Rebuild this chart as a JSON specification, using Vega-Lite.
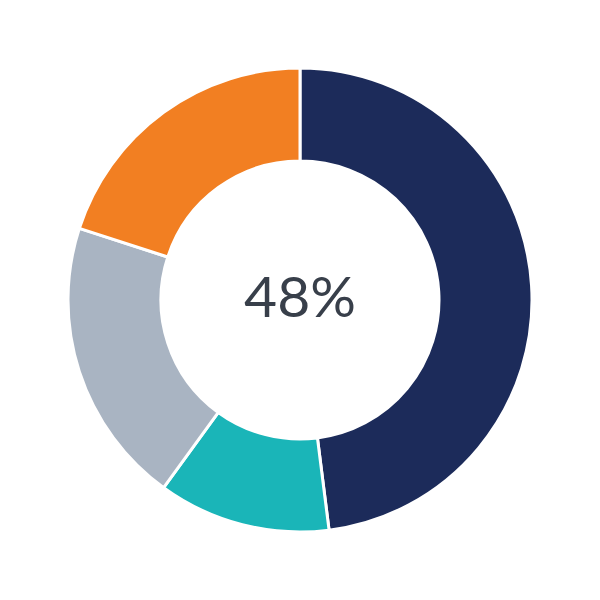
{
  "$schema": "https://vega.github.io/schema/vega-lite/v6.json",
  "width": 600,
  "height": 600,
  "autosize": {"type": "fit", "contains": "padding"},
  "padding": 0,
  "background": "white",
  "view": {"stroke": null},
  "data": {
    "values": [
      {"segment": "A", "share": 48, "rank": 1},
      {"segment": "B", "share": 12, "rank": 2},
      {"segment": "C", "share": 20, "rank": 3},
      {"segment": "D", "share": 20, "rank": 4}
    ]
  },
  "layer": [
    {
      "mark": {"type": "arc", "innerRadius": 139, "outerRadius": 232, "stroke": "white", "strokeWidth": 3},
      "encoding": {
        "theta": {"field": "share", "type": "quantitative", "stack": true},
        "order": {"field": "rank", "type": "quantitative"},
        "color": {
          "field": "segment",
          "type": "nominal",
          "scale": {"domain": ["A", "B", "C", "D"], "range": ["#1c2b5a", "#1ab5b8", "#a9b4c2", "#f27f22"]},
          "legend": null
        }
      }
    },
    {
      "data": {"values": [{"label": "48%"}]},
      "mark": {"type": "text", "fontSize": 57, "font": "Lato", "fontWeight": 400, "color": "#383f4a", "align": "center", "baseline": "middle"},
      "encoding": {
        "text": {"field": "label", "type": "nominal"}
      }
    }
  ]
}
